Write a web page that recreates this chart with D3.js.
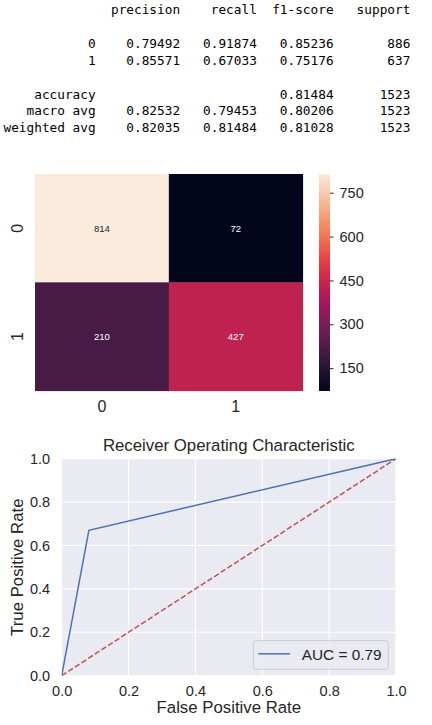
<!DOCTYPE html>
<html>
<head>
<meta charset="utf-8">
<script src="https://cdn.jsdelivr.net/npm/d3@7"></script>
<style>
  html, body { margin: 0; padding: 0; background: #fff; }
  svg { display: block; }
</style>
</head>
<body>
<svg id="chart" width="432" height="725"></svg>
<script>
// ---------- data ----------
const reportHeaders = ["precision", "recall", "f1-score", "support"];
const reportLabels = ["0", "1", "", "accuracy", "macro avg", "weighted avg"];
const reportPrecision = [0.79492, 0.85571, null, null, 0.82532, 0.82035];
const reportRecall    = [0.91874, 0.67033, null, null, 0.79453, 0.81484];
const reportF1        = [0.85236, 0.75176, null, 0.81484, 0.80206, 0.81028];
const reportSupport   = [886, 637, null, 1523, 1523, 1523];

const classes = ["0", "1"];
const confusion = [[814, 72], [210, 427]];
const colorbarTicks = [150, 300, 450, 600, 750];

const rocFpr = [0, 0.0813, 1];
const rocTpr = [0, 0.6703, 1];
const chanceFpr = [0, 1];
const chanceTpr = [0, 1];
const rocTicks = [0, 0.2, 0.4, 0.6, 0.8, 1.0];
const aucLabel = "AUC = 0.79";
const rocTitle = "Receiver Operating Characteristic";
const xLabel = "False Positive Rate";
const yLabel = "True Positive Rate";

// rocket colormap stops
const rocketStops = ["#03051a", "#35193e", "#701f57", "#ad1759", "#e13342", "#f37651", "#f6b48f", "#faebdd"];

// ---------- setup ----------
const svg = d3.select("#chart");
const TEXT = "#262626";
const SANS = "'Liberation Sans', Arial, sans-serif";

// ---------- classification report (monospace text) ----------
const W = 12;
function fmt(v, d) { return v == null ? "" : v.toFixed(d); }
const lines = [];
lines.push("".padStart(W) + " " + reportHeaders.map(h => " " + h.padStart(9)).join(""));
lines.push("");
reportLabels.forEach((lab, i) => {
  if (lab === "") { lines.push(""); return; }
  let s = lab.padStart(W) + " ";
  s += " " + fmt(reportPrecision[i], 5).padStart(9);
  s += " " + fmt(reportRecall[i], 5).padStart(9);
  s += " " + fmt(reportF1[i], 5).padStart(9);
  s += " " + String(reportSupport[i] == null ? "" : reportSupport[i]).padStart(9);
  lines.push(s);
});
const txt = svg.append("g");
txt.selectAll("text").data(lines).join("text")
  .attr("x", 3.5)
  .attr("y", (d, i) => 14 + i * 16.9)
  .attr("font-family", "'DejaVu Sans Mono', monospace")
  .attr("font-size", 12.76)
  .attr("fill", "#000")
  .attr("xml:space", "preserve")
  .style("white-space", "pre")
  .text(d => d);

// ---------- heatmap ----------
const vmin = 72, vmax = 814;
const colorScale = d3.scaleLinear()
  .domain(rocketStops.map((c, i) => i / (rocketStops.length - 1)))
  .range(rocketStops)
  .interpolate(d3.interpolateRgb);
const norm = v => (v - vmin) / (vmax - vmin);

const hx = d3.scaleBand().domain(classes).range([35, 302.7]);
const hy = d3.scaleBand().domain(classes).range([174, 390.7]);

const cells = [];
confusion.forEach((row, i) => row.forEach((v, j) => cells.push({ r: classes[i], c: classes[j], v })));

const hm = svg.append("g");
hm.selectAll("rect").data(cells).join("rect")
  .attr("x", d => hx(d.c))
  .attr("y", d => hy(d.r))
  .attr("width", hx.bandwidth() + 0.4)
  .attr("height", hy.bandwidth() + 0.4)
  .attr("fill", d => colorScale(norm(d.v)));

hm.selectAll("text.ann").data(cells).join("text")
  .attr("class", "ann")
  .attr("x", d => hx(d.c) + hx.bandwidth() / 2)
  .attr("y", d => hy(d.r) + hy.bandwidth() / 2 + 3.5)
  .attr("text-anchor", "middle")
  .attr("font-family", SANS)
  .attr("font-size", 9.6)
  .attr("fill", d => norm(d.v) > 0.6 ? TEXT : "#ffffff")
  .text(d => d.v);

// x tick labels
const hxAxis = svg.append("g")
  .attr("transform", "translate(0,390.7)")
  .call(d3.axisBottom(hx).tickSize(0).tickPadding(10));
hxAxis.select(".domain").remove();
hxAxis.selectAll("text").attr("font-family", SANS).attr("font-size", 16).attr("fill", TEXT);

// y tick labels (rotated)
svg.append("g").selectAll("text").data(classes).join("text")
  .attr("transform", d => `translate(22.5,${hy(d) + hy.bandwidth() / 2}) rotate(-90)`)
  .attr("text-anchor", "middle")
  .attr("font-family", SANS)
  .attr("font-size", 16)
  .attr("fill", TEXT)
  .text(d => d);

// colorbar
const cbX = 319, cbW = 11;
const cbY = d3.scaleLinear().domain([vmin, vmax]).range([391, 174]);
const defs = svg.append("defs");
const grad = defs.append("linearGradient").attr("id", "rocket")
  .attr("x1", 0).attr("y1", 1).attr("x2", 0).attr("y2", 0);
d3.range(0, 1.0001, 0.05).forEach(t => {
  grad.append("stop").attr("offset", t).attr("stop-color", colorScale(t));
});
svg.append("rect")
  .attr("x", cbX).attr("y", cbY(vmax))
  .attr("width", cbW).attr("height", cbY(vmin) - cbY(vmax))
  .attr("fill", "url(#rocket)");
const cbAxis = svg.append("g")
  .attr("transform", `translate(${cbX + cbW},0)`)
  .call(d3.axisRight(cbY).tickValues(colorbarTicks).tickSize(3.5).tickPadding(6));
cbAxis.select(".domain").remove();
cbAxis.selectAll("line").attr("stroke", TEXT).attr("stroke-width", 1);
cbAxis.selectAll("text").attr("font-family", SANS).attr("font-size", 14.5).attr("fill", TEXT);

// ---------- ROC ----------
const L = 61.7, R = 396, T = 458.7, B = 675.7;
const rx = d3.scaleLinear().domain([0, 1]).range([L, R]);
const ry = d3.scaleLinear().domain([0, 1]).range([B, T]);

const roc = svg.append("g");
roc.append("rect").attr("x", L).attr("y", T).attr("width", R - L).attr("height", B - T).attr("fill", "#eaeaf2");

// grid
roc.append("g").selectAll("line").data(rocTicks).join("line")
  .attr("x1", d => rx(d)).attr("x2", d => rx(d)).attr("y1", T).attr("y2", B)
  .attr("stroke", "#fff").attr("stroke-width", 1.1);
roc.append("g").selectAll("line").data(rocTicks).join("line")
  .attr("y1", d => ry(d)).attr("y2", d => ry(d)).attr("x1", L).attr("x2", R)
  .attr("stroke", "#fff").attr("stroke-width", 1.1);

defs.append("clipPath").attr("id", "plotclip").append("rect")
  .attr("x", L).attr("y", T).attr("width", R - L).attr("height", B - T);

const line = d3.line().x(d => rx(d[0])).y(d => ry(d[1]));
const plotG = roc.append("g").attr("clip-path", "url(#plotclip)");
plotG.append("path")
  .datum(chanceFpr.map((f, i) => [f, chanceTpr[i]]))
  .attr("d", line).attr("fill", "none")
  .attr("stroke", "#c44e52").attr("stroke-width", 1.5)
  .attr("stroke-dasharray", "5.5,2.4");
plotG.append("path")
  .datum(rocFpr.map((f, i) => [f, rocTpr[i]]))
  .attr("d", line).attr("fill", "none")
  .attr("stroke", "#4c72b0").attr("stroke-width", 1.5);

// axes
const fmtTick = d3.format(".1f");
const rxAxis = svg.append("g").attr("transform", `translate(0,${B})`)
  .call(d3.axisBottom(rx).tickValues(rocTicks).tickFormat(fmtTick).tickSize(0).tickPadding(10.5));
rxAxis.select(".domain").remove();
rxAxis.selectAll("text").attr("font-family", SANS).attr("font-size", 14.5).attr("fill", TEXT);

const ryAxis = svg.append("g").attr("transform", `translate(${L},0)`)
  .call(d3.axisLeft(ry).tickValues(rocTicks).tickFormat(fmtTick).tickSize(0).tickPadding(11.5));
ryAxis.select(".domain").remove();
ryAxis.selectAll("text").attr("font-family", SANS).attr("font-size", 14.5).attr("fill", TEXT);

// title & labels
svg.append("text").attr("x", (L + R) / 2).attr("y", 451)
  .attr("text-anchor", "middle").attr("font-family", SANS).attr("font-size", 16.8).attr("fill", TEXT)
  .text(rocTitle);
svg.append("text").attr("x", (L + R) / 2).attr("y", 713)
  .attr("text-anchor", "middle").attr("font-family", SANS).attr("font-size", 16.8).attr("fill", TEXT)
  .text(xLabel);
svg.append("text").attr("transform", `translate(23,${(T + B) / 2}) rotate(-90)`)
  .attr("text-anchor", "middle").attr("font-family", SANS).attr("font-size", 16.8).attr("fill", TEXT)
  .text(yLabel);

// legend
const lg = svg.append("g");
lg.append("rect").attr("x", 253.3).attr("y", 640.7).attr("width", 135).attr("height", 28.6)
  .attr("rx", 2.5).attr("fill", "#eaeaf2").attr("fill-opacity", 0.8).attr("stroke", "#cccccc").attr("stroke-width", 1);
lg.append("line").attr("x1", 258.3).attr("x2", 290).attr("y1", 653.8).attr("y2", 653.8)
  .attr("stroke", "#4c72b0").attr("stroke-width", 1.5);
lg.append("text").attr("x", 301.7).attr("y", 659.5)
  .attr("font-family", SANS).attr("font-size", 15.4).attr("fill", TEXT)
  .text(aucLabel);
</script>
</body>
</html>
